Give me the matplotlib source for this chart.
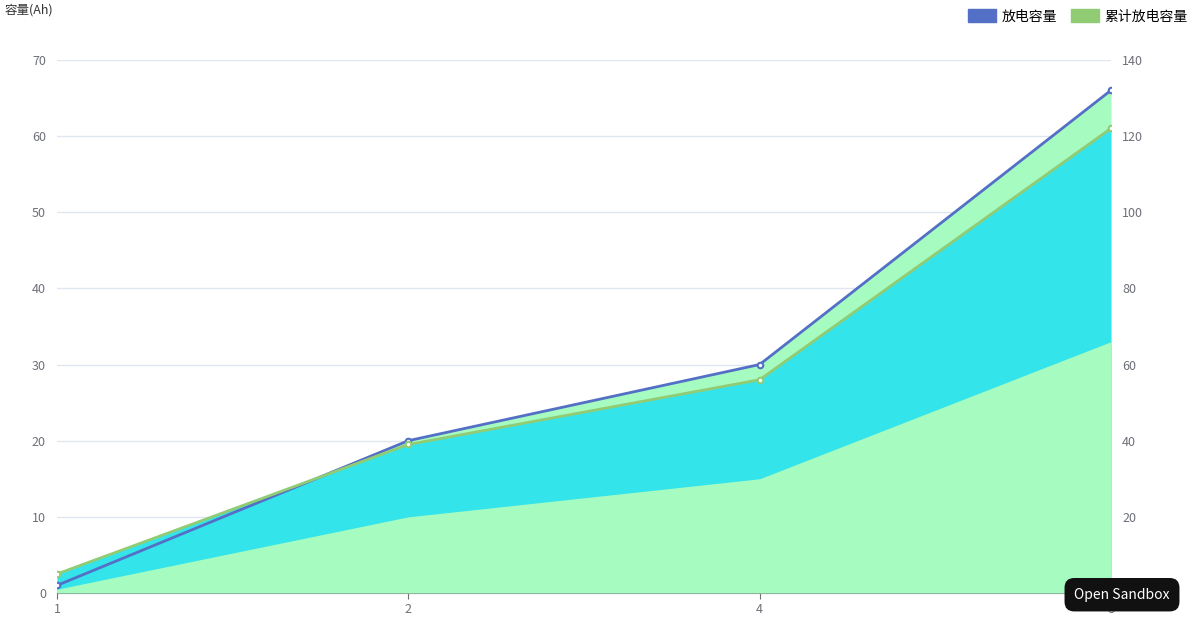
import matplotlib
matplotlib.use("Agg")
import matplotlib.pyplot as plt
from matplotlib.patches import Patch

plt.rcParams['font.family'] = ['Noto Sans CJK SC', 'DejaVu Sans']

categories = ['1', '2', '4', '8']
capacity = [1, 20, 30, 66]            # left axis, blue
cumulative = [5, 39, 56, 122]         # right axis, green
lower_band = [0.5, 10, 15, 33]        # lower light-green band (left units)
series_names = ['放电容量', '累计放电容量']

fig = plt.figure(figsize=(12, 6.3), dpi=100)
ax = fig.add_axes([0.0475, 0.0587, 0.8783, 0.8463])
ax2 = ax.twinx()
x = list(range(len(categories)))

ax.set_ylim(0, 70)
ax2.set_ylim(0, 140)
ax.set_xlim(0, len(categories) - 1)

cum_left = [v / 2 for v in cumulative]
ax.fill_between(x, 0, capacity, color='#a6fcc0', zorder=1, lw=0)
ax.fill_between(x, 0, cum_left, color='#33e5eb', zorder=2, lw=0)
ax.fill_between(x, 0, lower_band, color='#a6fcc0', zorder=3, lw=0)

ax.plot(x, capacity, color='#5470c6', lw=2, marker='o', ms=4, mfc='white', mew=1.5, zorder=5)
ax2.plot(x, cumulative, color='#91cc75', lw=2, marker='o', ms=4, mfc='white', mew=1.5, zorder=5)

ax.set_yticks(range(0, 71, 10))
ax2.set_yticks(range(0, 141, 20))
ax2.set_yticklabels([''] + [str(v) for v in range(20, 141, 20)])
ax.set_xticks(x)
ax.set_xticklabels(categories)
for a in (ax, ax2):
    a.tick_params(length=0, labelsize=9, labelcolor='#6e7079', pad=8)
    for s in a.spines.values():
        s.set_visible(False)
ax.tick_params(axis='x', length=4, color='#6e7079', pad=3)
ax.spines['bottom'].set_visible(True)
ax.spines['bottom'].set_color('#6e7079')
ax.set_axisbelow(True)
ax.grid(axis='y', color='#e0e6f1', lw=1)

fig.text(0.004, 0.978, '容量(Ah)', fontsize=9, color='#333333')
handles = [Patch(color='#5470c6'), Patch(color='#91cc75')]
fig.legend(handles, series_names, loc='upper right', bbox_to_anchor=(1.0, 1.005), ncol=2,
           frameon=False, fontsize=10, handlelength=2.0, handleheight=1.0, columnspacing=1.0, handletextpad=0.4)

fig.text(0.935, 0.056, 'Open Sandbox', fontsize=10, color='white', ha='center', va='center',
         bbox=dict(boxstyle='round,pad=0.7', fc='#111111', ec='none'))

fig.savefig('out.png', dpi=100)
